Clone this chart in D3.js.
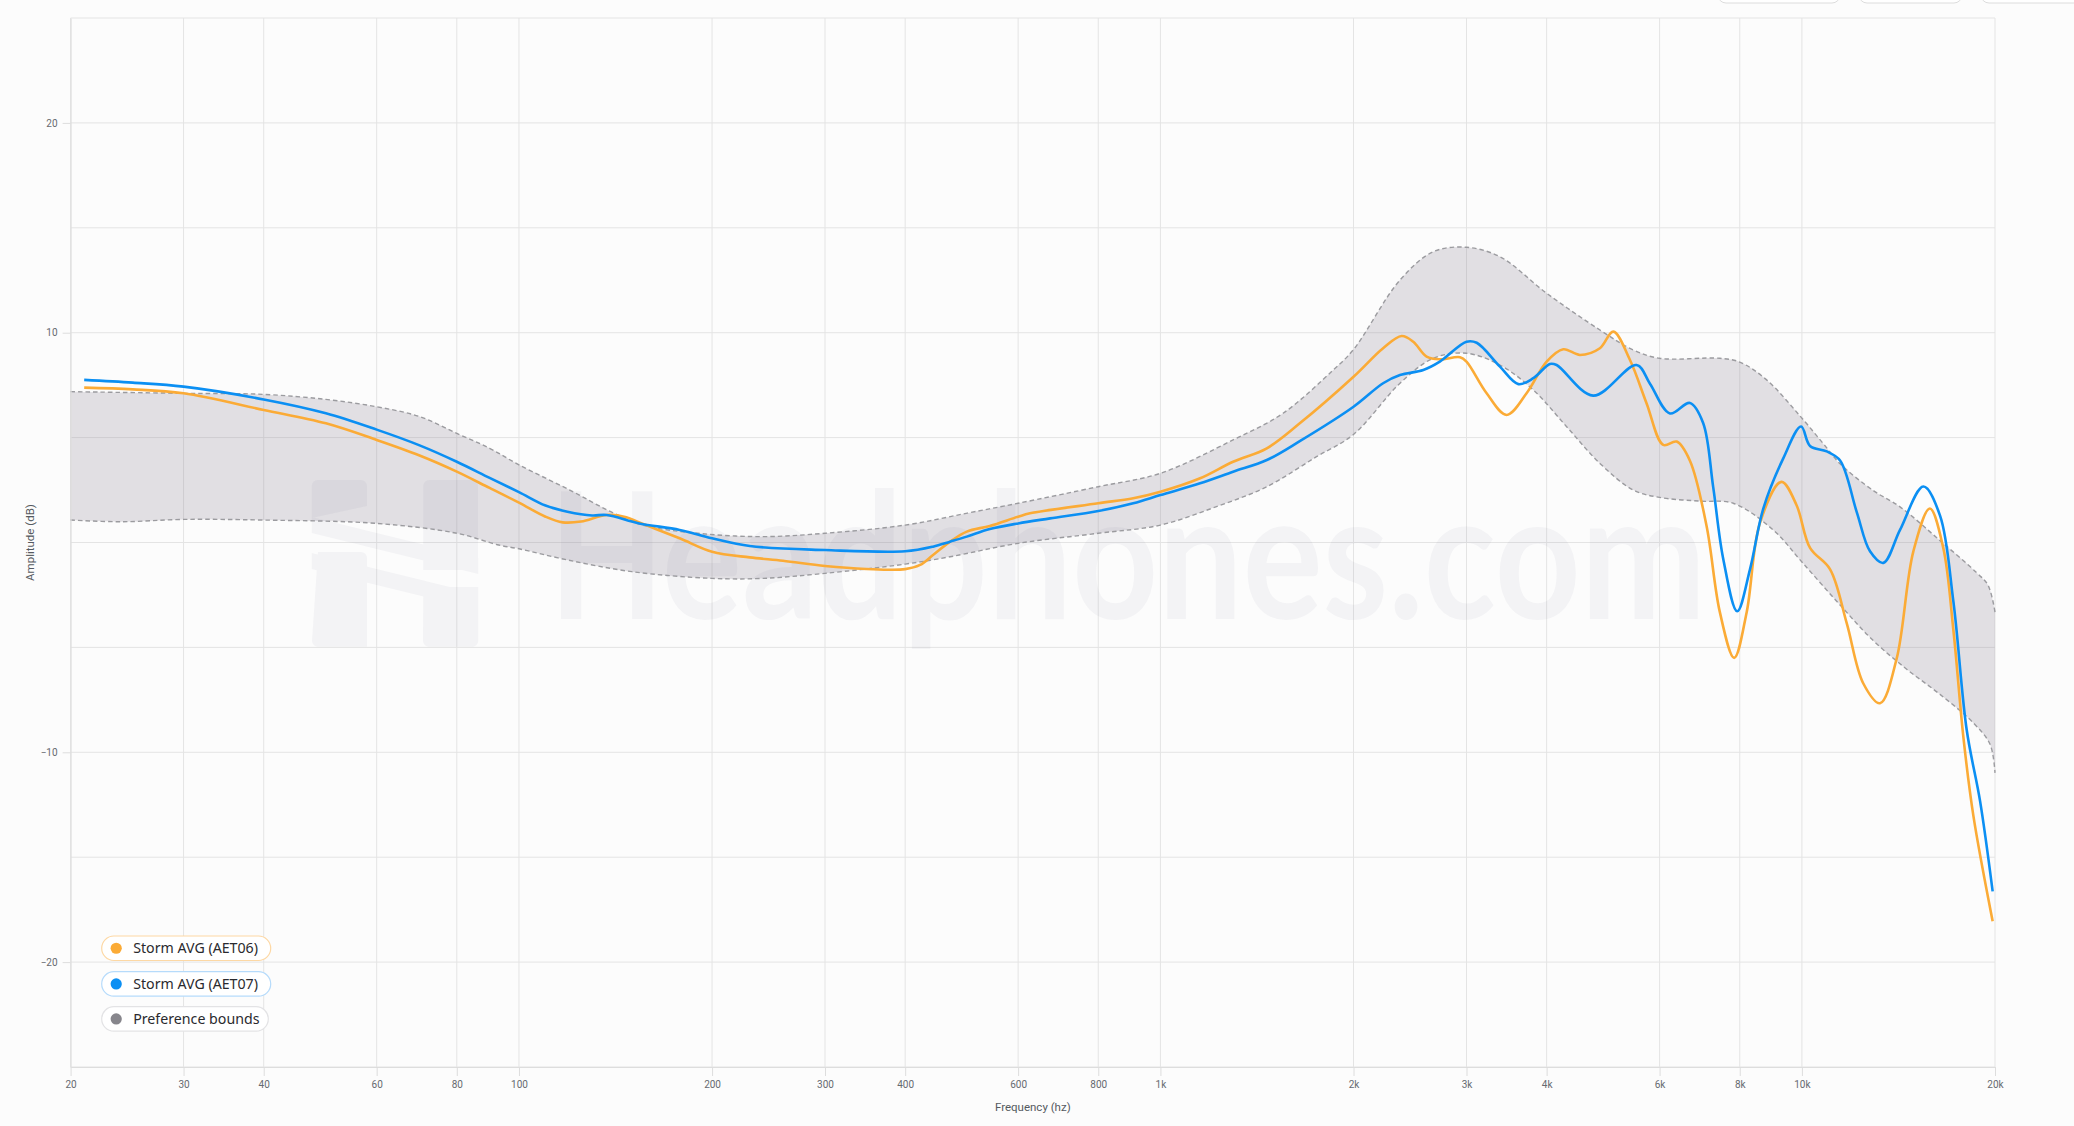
<!DOCTYPE html>
<html><head><meta charset="utf-8">
<script src="https://cdn.jsdelivr.net/npm/d3@7"></script>
<style>html,body{margin:0;padding:0;background:#fcfcfc;} svg{display:block;}</style>
</head><body><svg id="chart" width="2074" height="1126"></svg>
<script>
// ---- data ----
const freqTicks = [20,30,40,60,80,100,200,300,400,600,800,1000,2000,3000,4000,6000,8000,10000,20000];
const freqTickLabels = ["20","30","40","60","80","100","200","300","400","600","800","1k","2k","3k","4k","6k","8k","10k","20k"];
const dbGrid = [-25,-20,-15,-10,-5,0,5,10,15,20,25];
const dbTicks = [20,10,-10,-20];
const seriesNames = ["Storm AVG (AET06)","Storm AVG (AET07)","Preference bounds"];

const aet06 = [[21,7.38],[25,7.3],[30,7.11],[40,6.32],[50,5.68],[60,4.89],[70,4.15],[80,3.38],[90,2.6],[100,1.9],[110,1.23],[117,0.96],[125,1.0],[137,1.31],[147,1.2],[154,0.95],[178,0.2],[200,-0.44],[229,-0.71],[258,-0.87],[300,-1.12],[348,-1.26],[400,-1.27],[422,-1.07],[442,-0.6],[470,0.04],[499,0.52],[542,0.79],[600,1.23],[626,1.39],[800,1.87],[907,2.11],[1000,2.42],[1153,3.06],[1298,3.85],[1465,4.49],[1649,5.68],[2000,7.9],[2224,9.26],[2377,9.84],[2478,9.57],[2600,8.86],[2726,8.73],[2931,8.83],[3000,8.62],[3225,7.11],[3464,6.08],[3722,7.11],[4000,8.62],[4246,9.21],[4508,8.94],[4843,9.26],[5081,10.05],[5395,8.7],[5727,6.63],[6080,4.65],[6379,4.81],[6690,3.9],[7101,0.8],[7449,-3.32],[7842,-5.5],[8202,-3.32],[8603,0.94],[9293,2.89],[9807,1.79],[10297,-0.26],[11065,-1.28],[11742,-3.83],[12467,-6.72],[13238,-7.66],[14053,-5.53],[14920,-0.42],[15830,1.62],[16611,-0.26],[17224,-4.17],[17854,-9.28],[18505,-13.02],[19832,-18.05]];

const aet07 = [[21,7.75],[25,7.62],[30,7.43],[40,6.82],[50,6.16],[60,5.38],[70,4.63],[80,3.85],[90,3.08],[100,2.4],[110,1.76],[119,1.47],[130,1.29],[137,1.31],[154,0.91],[178,0.6],[200,0.2],[229,-0.17],[300,-0.36],[400,-0.42],[442,-0.2],[470,0.04],[499,0.28],[542,0.64],[600,0.91],[673,1.15],[800,1.5],[907,1.87],[1000,2.26],[1153,2.82],[1298,3.37],[1465,3.93],[1649,4.83],[2000,6.47],[2224,7.59],[2363,7.98],[2569,8.22],[2726,8.62],[3000,9.57],[3112,9.52],[3383,8.38],[3614,7.55],[3813,7.83],[4047,8.51],[4146,8.46],[4727,7.0],[5524,8.46],[5796,7.57],[6228,6.15],[6690,6.65],[7015,5.7],[7273,2.64],[7539,-0.77],[7928,-3.28],[8300,-1.28],[8706,1.62],[9349,4.0],[9970,5.53],[10297,4.6],[10933,4.34],[11469,3.91],[12176,1.45],[12770,-0.42],[13396,-0.97],[14222,0.6],[15466,2.67],[16419,1.28],[17224,-2.81],[18069,-8.94],[18960,-12.34],[19832,-16.63]];

const boundUpper = [[20,7.19],[30,7.11],[40,7.06],[50,6.82],[60,6.47],[70,6.0],[80,5.2],[90,4.49],[100,3.7],[120,2.5],[139,1.47],[156,0.83],[190,0.44],[240,0.28],[300,0.44],[400,0.83],[500,1.4],[600,1.87],[800,2.66],[1000,3.3],[1298,4.89],[1553,6.16],[1859,8.22],[2000,9.2],[2363,12.51],[2663,13.86],[3000,14.07],[3383,13.62],[4000,11.88],[4843,10.13],[5458,9.18],[6000,8.78],[7449,8.78],[8000,8.6],[8811,7.75],[9927,6.04],[10933,4.51],[11469,3.75],[12925,2.47],[14222,1.7],[16419,0.09],[18735,-1.45],[19510,-2.04],[20000,-3.32]];

const boundLower = [[20,1.07],[24,0.99],[30,1.1],[40,1.07],[60,0.91],[80,0.44],[93,-0.12],[100,-0.3],[119,-0.83],[150,-1.39],[200,-1.71],[240,-1.71],[300,-1.47],[400,-1.03],[470,-0.68],[600,-0.04],[800,0.44],[1000,0.83],[1223,1.71],[1465,2.66],[1751,4.09],[2000,5.15],[2363,7.59],[2663,8.78],[3000,9.02],[3383,8.46],[3813,7.27],[4298,5.52],[4843,3.77],[5458,2.5],[6000,2.15],[6933,1.97],[7815,1.87],[9020,0.6],[10000,-0.93],[11469,-2.98],[12925,-4.68],[14567,-6.04],[16419,-7.24],[18505,-8.6],[19648,-9.62],[20000,-10.98]];

// ---- chart ----
const svg = d3.select("#chart");
const x = d3.scaleLog().domain([20,20000]).range([70.6,1995]);
const y = d3.scaleLinear().domain([-25,25]).range([1067,18]);
const GRID = "#e4e4e4";
const ORANGE = "#fbab36", BLUE = "#0b8ff3", GRAYDOT = "#87868c";

// top UI buttons (cut off)
const btns = svg.append("g");
[[1718,1840],[1859,1962],[1981,2110]].forEach(b=>{
  btns.append("rect").attr("x",b[0]).attr("y",-30).attr("width",b[1]-b[0]).attr("height",33)
    .attr("rx",8).attr("fill","#ffffff").attr("stroke","#dcdcdc");
});

// grid
const grid = svg.append("g");
grid.selectAll("line.v").data(freqTicks).join("line").attr("class","v")
  .attr("x1",d=>x(d)).attr("x2",d=>x(d)).attr("y1",y(25)).attr("y2",y(-25))
  .attr("stroke",GRID).attr("stroke-width",1);
grid.selectAll("line.h").data(dbGrid).join("line").attr("class","h")
  .attr("x1",x(20)).attr("x2",x(20000)).attr("y1",d=>y(d)).attr("y2",d=>y(d))
  .attr("stroke",GRID).attr("stroke-width",1);

// band
const curve = d3.curveCatmullRom.alpha(0.5);
const lineGen = d3.line().x(d=>x(d[0])).y(d=>y(d[1])).curve(curve);
const upPath = lineGen(boundUpper);
const lowRev = lineGen(boundLower.slice().reverse());
svg.append("path").attr("d", upPath + "L" + lowRev.slice(1) + "Z")
  .attr("fill","rgba(120,110,132,0.2)").attr("stroke","none");

// watermark
const wm = svg.append("g").attr("fill","#50506e").attr("fill-opacity",0.05);
const logo = [
  "M318,480H361a6,6 0 0 1 6,6V506L311.7,518V486a6,6 0 0 1 6,-6Z",
  "M311.7,517L478.3,558V574L311.7,533Z",
  "M429,480H472a6,6 0 0 1 6,6V570H423.3V486a6,6 0 0 1 6,-6Z",
  "M318,552H361a6,6 0 0 1 6,6V646.7H318a6,6 0 0 1 -6,-6Z",
  "M311.7,553L478.3,594V610L311.7,569Z",
  "M423.3,587H478.3V640.7a6,6 0 0 1 -6,6H429a6,6 0 0 1 -6,-6Z"
].join("");
wm.append("path").attr("d",logo);
wm.append("text").attr("x",549).attr("y",619).attr("font-family","Lato, 'Open Sans', sans-serif")
  .attr("font-weight",700).attr("font-size",176).attr("textLength",1157).attr("lengthAdjust","spacingAndGlyphs")
  .text("Headphones.com");

// band edges
[boundUpper, boundLower].forEach(b=>{
  svg.append("path").attr("d",lineGen(b)).attr("fill","none")
    .attr("stroke","#9b9b9f").attr("stroke-width",1.4).attr("stroke-dasharray","4.5,3");
});

// axes
const xAxis = svg.append("g").attr("transform",`translate(0,${y(-25)})`)
  .call(d3.axisBottom(x).tickValues(freqTicks).tickFormat((d,i)=>freqTickLabels[i]).tickSize(9).tickSizeOuter(0).tickPadding(5));
const yAxis = svg.append("g").attr("transform",`translate(${x(20)},0)`)
  .call(d3.axisLeft(y).tickValues(dbTicks).tickSize(8).tickSizeOuter(0).tickPadding(5));
[xAxis,yAxis].forEach(a=>{
  a.select(".domain").attr("stroke","#dddddd");
  a.selectAll(".tick line").attr("stroke","#dddddd");
  a.selectAll(".tick text").attr("fill","#666a70").attr("font-size",10).attr("font-family","Roboto, 'Noto Sans', sans-serif");
});

svg.append("text").attr("x",(x(20)+x(20000))/2).attr("y",1111).attr("text-anchor","middle")
  .attr("font-family","Roboto, 'Noto Sans', sans-serif").attr("font-size",11.5).attr("fill","#555a60")
  .text("Frequency (hz)");
svg.append("text").attr("transform",`translate(34,${y(0)}) rotate(-90)`).attr("text-anchor","middle")
  .attr("font-family","Roboto, 'Noto Sans', sans-serif").attr("font-size",11.5).attr("fill","#555a60")
  .text("Amplitude (dB)");

// lines
svg.append("path").attr("d",lineGen(aet06)).attr("fill","none").attr("stroke",ORANGE).attr("stroke-width",2.6).attr("stroke-linejoin","round");
svg.append("path").attr("d",lineGen(aet07)).attr("fill","none").attr("stroke",BLUE).attr("stroke-width",2.6).attr("stroke-linejoin","round");

// legend
const legendItems = [
  {name:seriesNames[0], dot:ORANGE, border:"#fdd8a4", y:936, w:169},
  {name:seriesNames[1], dot:BLUE, border:"#b6dbfb", y:971.7, w:169},
  {name:seriesNames[2], dot:GRAYDOT, border:"#e3e3e5", y:1006.7, w:166.6}
];
const lg = svg.append("g");
legendItems.forEach(it=>{
  const g = lg.append("g").attr("transform",`translate(101.7,${it.y})`);
  g.append("rect").attr("x",0).attr("y",0).attr("width",it.w).attr("height",24.5).attr("rx",12.25)
    .attr("fill","#ffffff").attr("stroke",it.border).attr("stroke-width",1.2);
  g.append("circle").attr("cx",14.5).attr("cy",12.25).attr("r",5.6).attr("fill",it.dot);
  g.append("text").attr("x",31.5).attr("y",17.3).attr("font-family","'Noto Sans', 'Open Sans', sans-serif")
    .attr("font-size",14.2).attr("fill","#2a2a2e").text(it.name);
});
</script></body></html>
